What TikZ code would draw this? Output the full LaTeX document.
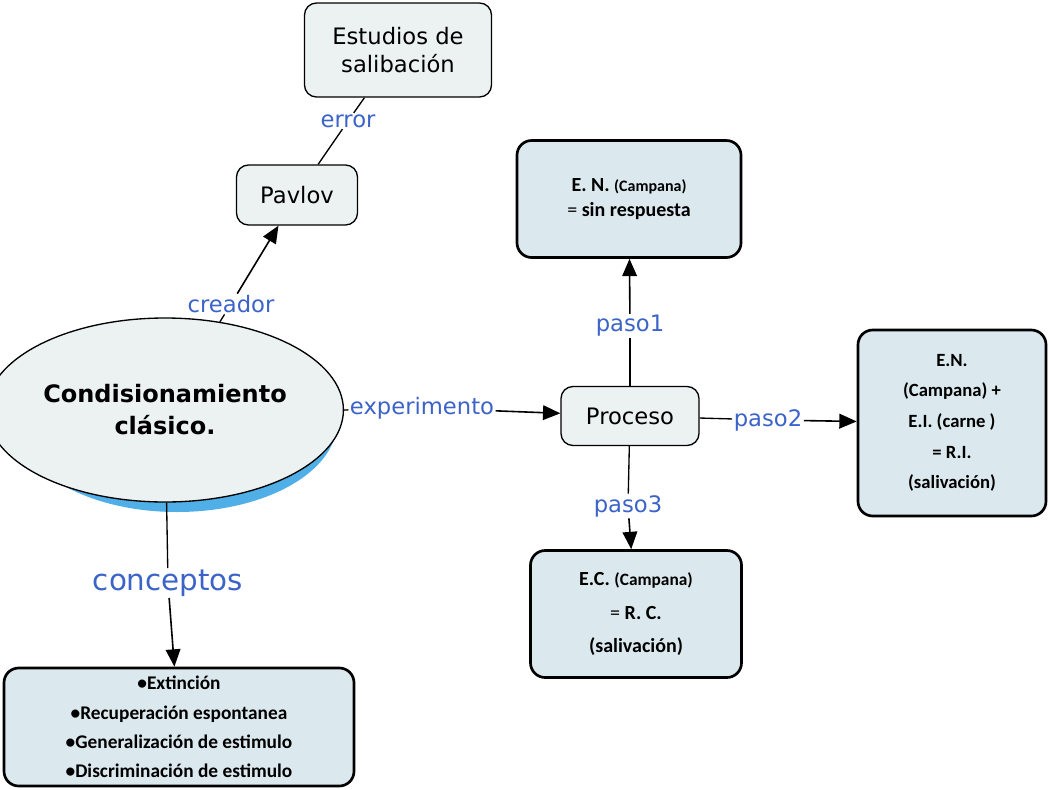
\documentclass[tikz,border=0pt]{standalone}
\usepackage{fontspec}
\setmainfont{DejaVu Sans}
\newfontfamily\boxfont{Carlito}
\usetikzlibrary{shapes.geometric,arrows.meta}
\definecolor{lblblue}{RGB}{60,100,200}
\definecolor{boxfill}{RGB}{219,233,239}
\definecolor{softfill}{RGB}{236,242,242}
\tikzset{
  plain/.style={draw,rounded corners=9pt,fill=softfill,line width=1pt,align=center,font=\fontsize{17}{21}\selectfont},
  key/.style={draw,rounded corners=11pt,fill=boxfill,line width=2pt,align=center,font=\boxfont\bfseries\fontsize{15}{25}\selectfont},
  lbl/.style={text=lblblue,fill=white,inner sep=1pt,font=\fontsize{17}{20}\selectfont},
  link/.style={line width=1pt},
  arr/.style={line width=1.2pt,-{Triangle[length=13pt,width=11pt]}}
}
\begin{document}
\begin{tikzpicture}[x=0.75pt,y=-0.75pt]
\useasboundingbox (0,0) rectangle (1049,789);
% nodes
\node[plain,minimum width=187*0.75pt,minimum height=94*0.75pt] (est) at (398,50) {Estudios de\\salibación};
\node[plain,minimum width=121*0.75pt,minimum height=60*0.75pt] (pav) at (297,195) {Pavlov};
\node[plain,minimum width=138*0.75pt,minimum height=59*0.75pt] (pro) at (630,416) {Proceso};
\fill[cyan!80!blue!70] (177,422) ellipse (160*0.75pt and 90*0.75pt);
\node[ellipse,draw,line width=1pt,fill=softfill,minimum width=320*0.75pt,minimum height=184*0.75pt,align=center,font=\bfseries\fontsize{18}{24}\selectfont] (cond) at (165,410) {Condisionamiento\\clásico.};
\node[key,minimum width=224*0.75pt,minimum height=117*0.75pt] (en) at (629,199) {E. N. {\fontsize{12}{14}\selectfont(Campana)}\\[-6pt]{\mdseries =} sin respuesta};
\node[key,minimum width=188*0.75pt,minimum height=186*0.75pt,font=\boxfont\bfseries\fontsize{14}{23}\selectfont] (ei) at (952,423) {E.N.\\(Campana) +\\E.I. (carne )\\= R.I.\\(salivación)};
\node[key,minimum width=211*0.75pt,minimum height=127*0.75pt] (ec) at (636,614) {E.C. {\fontsize{13}{14}\selectfont(Campana)}\\{\mdseries =} R. C.\\(salivación)};
\node[key,minimum width=350*0.75pt,minimum height=118*0.75pt,font=\boxfont\bfseries\fontsize{14.5}{22}\selectfont] (con) at (179,727) {•Extinción\\•Recuperación espontanea\\•Generalización de estimulo\\•Discriminación de estimulo};
% labels
\node[lbl] (err) at (348,121) {error};
\node[lbl] (cre) at (231,304) {creador};
\node[lbl] (exp) at (422,408) {experimento};
\node[lbl] (p1) at (630,326) {paso1};
\node[lbl] (p2) at (768,420) {paso2};
\node[lbl] (p3) at (628,506) {paso3};
\node[lbl,font=\fontsize{22}{26}\selectfont] (cpt) at (168,583) {conceptos};
% connectors
\draw[link] (pav) -- (err);
\draw[link] (err) -- (est);
\draw[link] (cond) -- (cre);
\draw[arr] (cre) -- (pav);
\draw[link] (cond.east) -- (exp);
\draw[arr] (exp) -- (pro);
\draw[link] (pro) -- (p1);
\draw[arr] (p1) -- (en);
\draw[link] (pro) -- (p2);
\draw[arr] (p2) -- (ei);
\draw[link] (pro) -- (p3);
\draw[arr] (p3) -- (ec);
\draw[link] (cond) -- (cpt);
\draw[arr] (cpt) -- (con);
\end{tikzpicture}
\end{document}
